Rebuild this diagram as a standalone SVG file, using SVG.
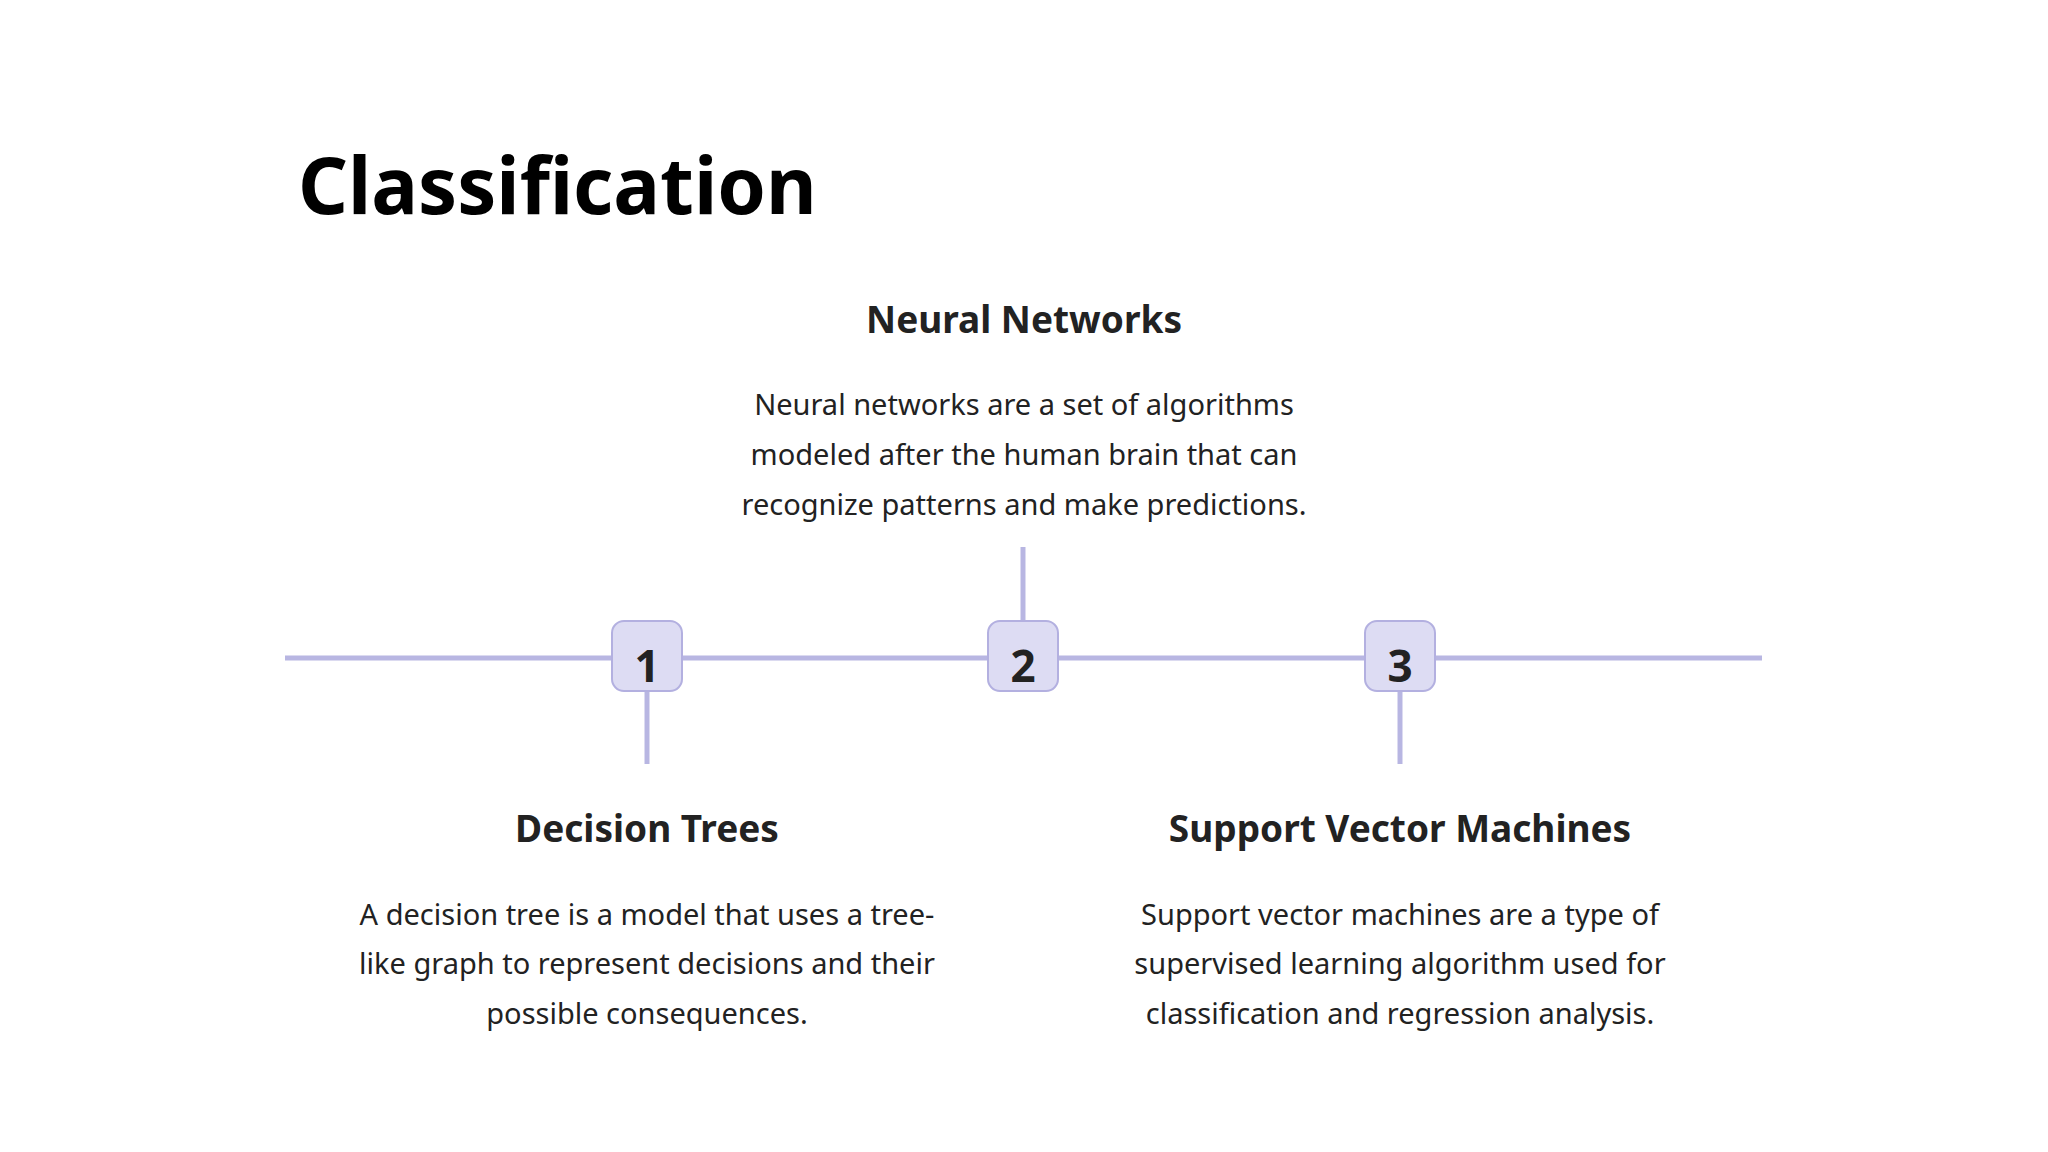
<svg xmlns="http://www.w3.org/2000/svg" width="2048" height="1152" viewBox="0 0 2048 1152">
<style>
.t{font-family:"Noto Sans",sans-serif;fill:#222;text-anchor:middle}
.h{font-size:37px;font-weight:bold}
.b{font-size:29px}
.n{font-size:44px;font-weight:bold;fill:#222;font-family:"Noto Sans",sans-serif;text-anchor:middle}
.ln{stroke:#b8b6e2;stroke-width:5;fill:none}
.box{fill:#dddcf3;stroke:#b3b0e0;stroke-width:2}
</style>
<rect width="2048" height="1152" fill="#fff"/>
<text x="298" y="214" font-family="Noto Sans,sans-serif" font-size="78" font-weight="bold" fill="#000">Classification</text>
<g id="connectors">
<line class="ln" x1="285" y1="658" x2="1762" y2="658"/>
<line class="ln" x1="647" y1="690" x2="647" y2="764"/>
<line class="ln" x1="1023" y1="547" x2="1023" y2="622"/>
<line class="ln" x1="1400" y1="690" x2="1400" y2="764"/>
</g>
<g id="node1">
<rect class="box" x="612" y="621" width="70" height="70" rx="12"/>
<text class="n" x="647" y="682">1</text>
<text class="t h" x="647" y="842">Decision Trees</text>
<text class="t b" x="647" y="925">A decision tree is a model that uses a tree-</text>
<text class="t b" x="647" y="974">like graph to represent decisions and their</text>
<text class="t b" x="647" y="1024">possible consequences.</text>
</g>
<g id="node2">
<rect class="box" x="988" y="621" width="70" height="70" rx="12"/>
<text class="n" x="1023" y="682">2</text>
<text class="t h" x="1024" y="333">Neural Networks</text>
<text class="t b" x="1024" y="415">Neural networks are a set of algorithms</text>
<text class="t b" x="1024" y="465">modeled after the human brain that can</text>
<text class="t b" x="1024" y="515">recognize patterns and make predictions.</text>
</g>
<g id="node3">
<rect class="box" x="1365" y="621" width="70" height="70" rx="12"/>
<text class="n" x="1400" y="682">3</text>
<text class="t h" x="1400" y="842">Support Vector Machines</text>
<text class="t b" x="1400" y="925">Support vector machines are a type of</text>
<text class="t b" x="1400" y="974">supervised learning algorithm used for</text>
<text class="t b" x="1400" y="1024">classification and regression analysis.</text>
</g>
</svg>
